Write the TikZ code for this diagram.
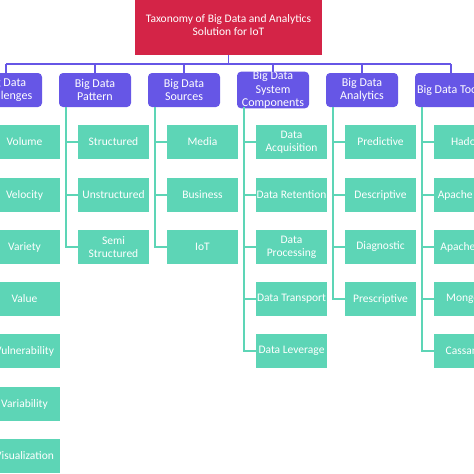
\documentclass[tikz,border=0pt]{standalone}
\usepackage{fontspec}
\setmainfont{Carlito}
\definecolor{rootred}{HTML}{D42447}
\definecolor{catblue}{HTML}{6656E6}
\definecolor{leafteal}{HTML}{5DD5B6}
\tikzset{
  rootbox/.style={fill=rootred, draw=none, minimum width=187pt, minimum height=60pt, inner sep=0pt,
    text=white, align=center, font=\fontsize{11.5}{13}\selectfont},
  catbox/.style={fill=catblue, draw=none, rounded corners=4pt, minimum width=72pt, minimum height=34pt,
    inner sep=0pt, text=white, align=center, font=\fontsize{12}{13.2}\selectfont},
  leafbox/.style={fill=leafteal, draw=none, minimum width=71pt, minimum height=34pt,
    inner sep=0pt, text=white, align=center, font=\fontsize{11.5}{13}\selectfont},
  busline/.style={draw=catblue, line width=1.5pt},
  tealline/.style={draw=leafteal, line width=1.5pt}
}
\begin{document}
\begin{tikzpicture}[x=1pt,y=-1pt]
\useasboundingbox (0,0) rectangle (474,474);
\clip (0,0) rectangle (474,474);

% root
\node[rootbox] (root) at (228.5,25) {Taxonomy of Big Data and Analytics\\Solution for IoT};

% categories
\node[catbox] (c) at (6,90)   {Big Data\\Challenges};
\node[catbox] (p) at (95,90)  {Big Data\\Pattern};
\node[catbox] (s) at (184,90) {Big Data\\Sources};
\node[catbox] (y) at (273,90) {Big Data\\System\\Components};
\node[catbox] (a) at (362,90) {Big Data\\Analytics};
\node[catbox] (t) at (451,90) {Big Data Tools};

% bus
\coordinate (busL) at (6,64);
\coordinate (busR) at (451,64);
\draw[busline] (root.south) -- (root.south |- busL);
\draw[busline] (busL) -- (busR);
\foreach \n in {c,p,s,y,a,t} \draw[busline] (\n.north |- busL) -- (\n.north);

% leaves: challenges
\node[leafbox] (c1) at (24.5,142) {Volume};
\node[leafbox] (c2) at (24.5,195) {Velocity};
\node[leafbox] (c3) at (24.5,247) {Variety};
\node[leafbox] (c4) at (24.5,299) {Value};
\node[leafbox] (c5) at (24.5,351) {Vulnerability};
\node[leafbox] (c6) at (24.5,404) {Variability};
\node[leafbox] (c7) at (24.5,456) {Visualization};
% pattern
\node[leafbox] (p1) at (113.5,142) {Structured};
\node[leafbox] (p2) at (113.5,195) {Unstructured};
\node[leafbox] (p3) at (113.5,247) {Semi\\Structured};
% sources
\node[leafbox] (s1) at (202.5,142) {Media};
\node[leafbox] (s2) at (202.5,195) {Business};
\node[leafbox] (s3) at (202.5,247) {IoT};
% system components
\node[leafbox] (y1) at (291.5,142) {Data\\Acquisition};
\node[leafbox] (y2) at (291.5,195) {Data Retention};
\node[leafbox] (y3) at (291.5,247) {Data\\Processing};
\node[leafbox] (y4) at (291.5,299) {Data Transport};
\node[leafbox] (y5) at (291.5,351) {Data Leverage};
% analytics
\node[leafbox] (a1) at (380.5,142) {Predictive};
\node[leafbox] (a2) at (380.5,195) {Descriptive};
\node[leafbox] (a3) at (380.5,247) {Diagnostic};
\node[leafbox] (a4) at (380.5,299) {Prescriptive};
% tools
\node[leafbox] (t1) at (469.5,142) {Hadoop};
\node[leafbox] (t2) at (469.5,195) {Apache Spark};
\node[leafbox] (t3) at (469.5,247) {Apache Hive};
\node[leafbox] (t4) at (469.5,299) {MongoDB};
\node[leafbox] (t5) at (469.5,351) {Cassandra};

% vertical trunks
\coordinate (cv) at (-23,107);
\coordinate (pv) at (66,107);
\coordinate (sv) at (155,107);
\coordinate (yv) at (244,107);
\coordinate (av) at (333,107);
\coordinate (tv) at (422,107);

\foreach \i in {1,...,7} \draw[tealline] (cv) |- (c\i.west);
\foreach \i in {1,2,3} \draw[tealline] (pv) |- (p\i.west);
\foreach \i in {1,2,3} \draw[tealline] (sv) |- (s\i.west);
\foreach \i in {1,...,5} \draw[tealline] (yv) |- (y\i.west);
\foreach \i in {1,...,4} \draw[tealline] (av) |- (a\i.west);
\foreach \i in {1,...,5} \draw[tealline] (tv) |- (t\i.west);
\end{tikzpicture}
\end{document}
